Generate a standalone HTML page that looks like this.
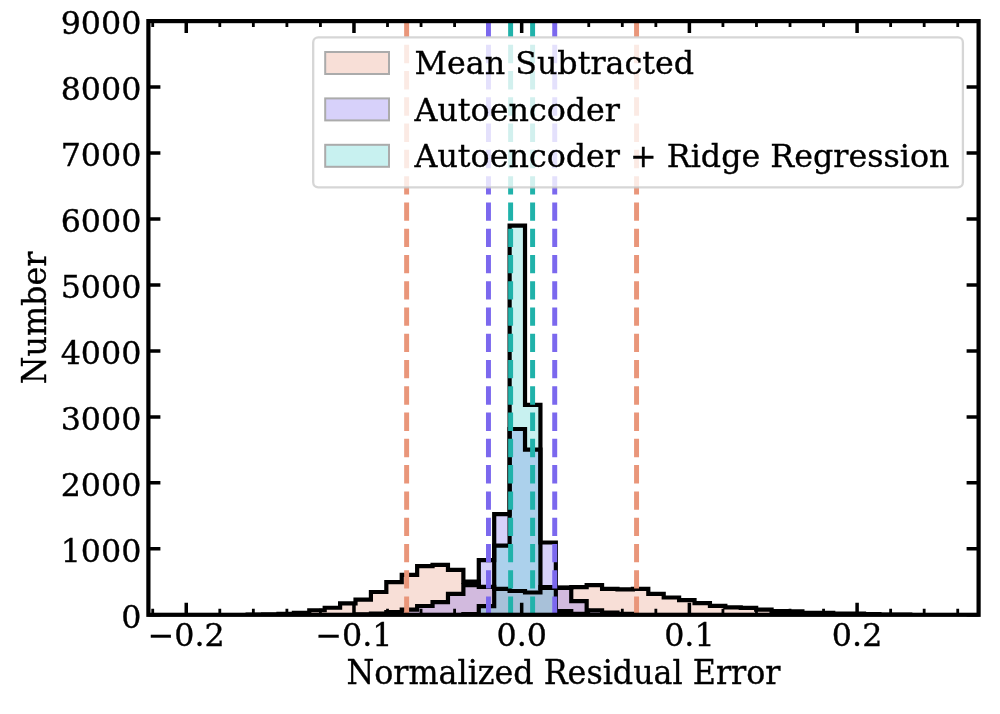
<!DOCTYPE html>
<html lang="en">
<head>
<meta charset="utf-8">
<title>Normalized Residual Error histogram</title>
<style>
html,body{margin:0;padding:0;background:#fff;}
body{width:1000px;height:714px;overflow:hidden;}
svg{display:block;}
</style>
</head>
<body>
<svg width="1000" height="714" viewBox="0 0 1000 714">
<defs><clipPath id="ax"><rect x="148.40" y="21.10" width="830.20" height="593.70"/></clipPath></defs>
<rect x="0" y="0" width="1000" height="714" fill="#fff"/>
<g clip-path="url(#ax)">
<path d="M247.64 614.80 L247.64 614.50 L263.05 614.50 L263.05 614.30 L278.46 614.30 L278.46 613.90 L293.87 613.90 L293.87 612.90 L309.28 612.90 L309.28 610.25 L324.69 610.25 L324.69 607.75 L340.10 607.75 L340.10 603.30 L355.51 603.30 L355.51 599.70 L370.92 599.70 L370.92 592.00 L386.33 592.00 L386.33 582.10 L401.74 582.10 L401.74 574.90 L417.15 574.90 L417.15 566.10 L432.56 566.10 L432.56 564.80 L447.97 564.80 L447.97 569.90 L463.38 569.90 L463.38 581.60 L478.79 581.60 L478.79 586.80 L494.20 586.80 L494.20 588.90 L509.61 588.90 L509.61 591.00 L525.02 591.00 L525.02 592.50 L540.43 592.50 L540.43 587.00 L555.84 587.00 L555.84 587.70 L571.25 587.70 L571.25 587.20 L586.66 587.20 L586.66 585.20 L602.07 585.20 L602.07 588.80 L617.48 588.80 L617.48 589.40 L632.89 589.40 L632.89 588.80 L648.30 588.80 L648.30 593.80 L663.71 593.80 L663.71 597.50 L679.12 597.50 L679.12 600.20 L694.53 600.20 L694.53 603.10 L709.94 603.10 L709.94 605.80 L725.35 605.80 L725.35 607.40 L740.76 607.40 L740.76 607.90 L756.17 607.90 L756.17 609.60 L771.58 609.60 L771.58 611.10 L786.99 611.10 L786.99 611.40 L802.40 611.40 L802.40 612.90 L817.81 612.90 L833.22 612.90 L833.22 613.60 L848.63 613.60 L864.04 613.60 L864.04 614.10 L879.45 614.10 L879.45 614.50 L894.86 614.50 L894.86 614.60 L910.27 614.60 L910.27 614.80 Z" fill="rgb(233,150,122)" fill-opacity="0.30" stroke="none"/>
<path d="M355.51 614.80 L355.51 614.30 L370.92 614.30 L370.92 613.70 L386.33 613.70 L386.33 612.00 L401.74 612.00 L401.74 609.60 L417.15 609.60 L417.15 606.00 L432.56 606.00 L432.56 602.10 L447.97 602.10 L447.97 593.80 L463.38 593.80 L463.38 585.20 L478.79 585.20 L478.79 560.10 L494.20 560.10 L494.20 514.10 L509.61 514.10 L509.61 429.00 L525.02 429.00 L525.02 449.70 L540.43 449.70 L540.43 542.50 L555.84 542.50 L555.84 587.80 L571.25 587.80 L571.25 601.10 L586.66 601.10 L586.66 610.40 L602.07 610.40 L602.07 612.50 L617.48 612.50 L617.48 613.80 L632.89 613.80 L632.89 614.80 Z" fill="rgb(123,104,238)" fill-opacity="0.30" stroke="none"/>
<path d="M463.38 614.80 L463.38 614.00 L478.79 614.00 L478.79 606.05 L494.20 606.05 L494.20 545.65 L509.61 545.65 L509.61 225.65 L525.02 225.65 L525.02 404.95 L540.43 404.95 L540.43 587.90 L555.84 587.90 L555.84 611.00 L571.25 611.00 L571.25 613.80 L586.66 613.80 L586.66 614.80 Z" fill="rgb(72,209,204)" fill-opacity="0.30" stroke="none"/>
<path d="M247.64 614.80 L247.64 614.50 L263.05 614.50 L263.05 614.30 L278.46 614.30 L278.46 613.90 L293.87 613.90 L293.87 612.90 L309.28 612.90 L309.28 610.25 L324.69 610.25 L324.69 607.75 L340.10 607.75 L340.10 603.30 L355.51 603.30 L355.51 599.70 L370.92 599.70 L370.92 592.00 L386.33 592.00 L386.33 582.10 L401.74 582.10 L401.74 574.90 L417.15 574.90 L417.15 566.10 L432.56 566.10 L432.56 564.80 L447.97 564.80 L447.97 569.90 L463.38 569.90 L463.38 581.60 L478.79 581.60 L478.79 586.80 L494.20 586.80 L494.20 588.90 L509.61 588.90 L509.61 591.00 L525.02 591.00 L525.02 592.50 L540.43 592.50 L540.43 587.00 L555.84 587.00 L555.84 587.70 L571.25 587.70 L571.25 587.20 L586.66 587.20 L586.66 585.20 L602.07 585.20 L602.07 588.80 L617.48 588.80 L617.48 589.40 L632.89 589.40 L632.89 588.80 L648.30 588.80 L648.30 593.80 L663.71 593.80 L663.71 597.50 L679.12 597.50 L679.12 600.20 L694.53 600.20 L694.53 603.10 L709.94 603.10 L709.94 605.80 L725.35 605.80 L725.35 607.40 L740.76 607.40 L740.76 607.90 L756.17 607.90 L756.17 609.60 L771.58 609.60 L771.58 611.10 L786.99 611.10 L786.99 611.40 L802.40 611.40 L802.40 612.90 L817.81 612.90 L833.22 612.90 L833.22 613.60 L848.63 613.60 L864.04 613.60 L864.04 614.10 L879.45 614.10 L879.45 614.50 L894.86 614.50 L894.86 614.60 L910.27 614.60 L910.27 614.80" fill="none" stroke="#000" stroke-width="4.20" stroke-linejoin="miter" stroke-linecap="butt"/>
<path d="M355.51 614.80 L355.51 614.30 L370.92 614.30 L370.92 613.70 L386.33 613.70 L386.33 612.00 L401.74 612.00 L401.74 609.60 L417.15 609.60 L417.15 606.00 L432.56 606.00 L432.56 602.10 L447.97 602.10 L447.97 593.80 L463.38 593.80 L463.38 585.20 L478.79 585.20 L478.79 560.10 L494.20 560.10 L494.20 514.10 L509.61 514.10 L509.61 429.00 L525.02 429.00 L525.02 449.70 L540.43 449.70 L540.43 542.50 L555.84 542.50 L555.84 587.80 L571.25 587.80 L571.25 601.10 L586.66 601.10 L586.66 610.40 L602.07 610.40 L602.07 612.50 L617.48 612.50 L617.48 613.80 L632.89 613.80 L632.89 614.80" fill="none" stroke="#000" stroke-width="4.20" stroke-linejoin="miter" stroke-linecap="butt"/>
<path d="M463.38 614.80 L463.38 614.00 L478.79 614.00 L478.79 606.05 L494.20 606.05 L494.20 545.65 L509.61 545.65 L509.61 225.65 L525.02 225.65 L525.02 404.95 L540.43 404.95 L540.43 587.90 L555.84 587.90 L555.84 611.00 L571.25 611.00 L571.25 613.80 L586.66 613.80 L586.66 614.80" fill="none" stroke="#000" stroke-width="4.20" stroke-linejoin="miter" stroke-linecap="butt"/>
</g>
<g stroke="#000" fill="none"><path d="M186.26 614.80 V602.80 M186.26 21.10 V33.10" stroke-width="3.50"/><path d="M353.97 614.80 V602.80 M353.97 21.10 V33.10" stroke-width="3.50"/><path d="M521.68 614.80 V602.80 M521.68 21.10 V33.10" stroke-width="3.50"/><path d="M689.39 614.80 V602.80 M689.39 21.10 V33.10" stroke-width="3.50"/><path d="M857.10 614.80 V602.80 M857.10 21.10 V33.10" stroke-width="3.50"/><path d="M152.72 614.80 V608.80 M152.72 21.10 V27.10" stroke-width="2.80"/><path d="M219.80 614.80 V608.80 M219.80 21.10 V27.10" stroke-width="2.80"/><path d="M253.34 614.80 V608.80 M253.34 21.10 V27.10" stroke-width="2.80"/><path d="M286.89 614.80 V608.80 M286.89 21.10 V27.10" stroke-width="2.80"/><path d="M320.43 614.80 V608.80 M320.43 21.10 V27.10" stroke-width="2.80"/><path d="M387.51 614.80 V608.80 M387.51 21.10 V27.10" stroke-width="2.80"/><path d="M421.05 614.80 V608.80 M421.05 21.10 V27.10" stroke-width="2.80"/><path d="M454.60 614.80 V608.80 M454.60 21.10 V27.10" stroke-width="2.80"/><path d="M488.14 614.80 V608.80 M488.14 21.10 V27.10" stroke-width="2.80"/><path d="M555.22 614.80 V608.80 M555.22 21.10 V27.10" stroke-width="2.80"/><path d="M588.76 614.80 V608.80 M588.76 21.10 V27.10" stroke-width="2.80"/><path d="M622.31 614.80 V608.80 M622.31 21.10 V27.10" stroke-width="2.80"/><path d="M655.85 614.80 V608.80 M655.85 21.10 V27.10" stroke-width="2.80"/><path d="M722.93 614.80 V608.80 M722.93 21.10 V27.10" stroke-width="2.80"/><path d="M756.47 614.80 V608.80 M756.47 21.10 V27.10" stroke-width="2.80"/><path d="M790.02 614.80 V608.80 M790.02 21.10 V27.10" stroke-width="2.80"/><path d="M823.56 614.80 V608.80 M823.56 21.10 V27.10" stroke-width="2.80"/><path d="M890.64 614.80 V608.80 M890.64 21.10 V27.10" stroke-width="2.80"/><path d="M924.18 614.80 V608.80 M924.18 21.10 V27.10" stroke-width="2.80"/><path d="M957.73 614.80 V608.80 M957.73 21.10 V27.10" stroke-width="2.80"/><path d="M148.40 614.80 H160.40 M978.60 614.80 H966.60" stroke-width="3.50"/><path d="M148.40 548.83 H160.40 M978.60 548.83 H966.60" stroke-width="3.50"/><path d="M148.40 482.87 H160.40 M978.60 482.87 H966.60" stroke-width="3.50"/><path d="M148.40 416.90 H160.40 M978.60 416.90 H966.60" stroke-width="3.50"/><path d="M148.40 350.93 H160.40 M978.60 350.93 H966.60" stroke-width="3.50"/><path d="M148.40 284.97 H160.40 M978.60 284.97 H966.60" stroke-width="3.50"/><path d="M148.40 219.00 H160.40 M978.60 219.00 H966.60" stroke-width="3.50"/><path d="M148.40 153.03 H160.40 M978.60 153.03 H966.60" stroke-width="3.50"/><path d="M148.40 87.07 H160.40 M978.60 87.07 H966.60" stroke-width="3.50"/><path d="M148.40 21.10 H160.40 M978.60 21.10 H966.60" stroke-width="3.50"/></g>
<g clip-path="url(#ax)">
<path d="M406.63 614.80 L406.63 21.10" stroke="rgb(233,150,122)" stroke-width="4.96" stroke-dasharray="18.34 7.93" fill="none"/>
<path d="M636.56 614.80 L636.56 21.10" stroke="rgb(233,150,122)" stroke-width="4.96" stroke-dasharray="18.34 7.93" fill="none"/>
<path d="M488.46 614.80 L488.46 21.10" stroke="rgb(123,104,238)" stroke-width="4.96" stroke-dasharray="18.34 7.93" fill="none"/>
<path d="M554.72 614.80 L554.72 21.10" stroke="rgb(123,104,238)" stroke-width="4.96" stroke-dasharray="18.34 7.93" fill="none"/>
<path d="M510.61 614.80 L510.61 21.10" stroke="rgb(32,178,170)" stroke-width="4.96" stroke-dasharray="18.34 7.93" fill="none"/>
<path d="M532.60 614.80 L532.60 21.10" stroke="rgb(32,178,170)" stroke-width="4.96" stroke-dasharray="18.34 7.93" fill="none"/>
</g>
<rect x="148.40" y="21.10" width="830.20" height="593.70" fill="none" stroke="#000" stroke-width="4.20" stroke-linejoin="miter"/>
<text transform="translate(141.40 627.50) scale(1 1.020)" text-anchor="end" font-family='"DejaVu Serif", "Liberation Serif", serif' font-size="31.75" fill="#000" stroke="#000" stroke-width="0.35">0</text>
<text transform="translate(141.40 561.53) scale(1 1.020)" text-anchor="end" font-family='"DejaVu Serif", "Liberation Serif", serif' font-size="31.75" fill="#000" stroke="#000" stroke-width="0.35">1000</text>
<text transform="translate(141.40 495.57) scale(1 1.020)" text-anchor="end" font-family='"DejaVu Serif", "Liberation Serif", serif' font-size="31.75" fill="#000" stroke="#000" stroke-width="0.35">2000</text>
<text transform="translate(141.40 429.60) scale(1 1.020)" text-anchor="end" font-family='"DejaVu Serif", "Liberation Serif", serif' font-size="31.75" fill="#000" stroke="#000" stroke-width="0.35">3000</text>
<text transform="translate(141.40 363.63) scale(1 1.020)" text-anchor="end" font-family='"DejaVu Serif", "Liberation Serif", serif' font-size="31.75" fill="#000" stroke="#000" stroke-width="0.35">4000</text>
<text transform="translate(141.40 297.67) scale(1 1.020)" text-anchor="end" font-family='"DejaVu Serif", "Liberation Serif", serif' font-size="31.75" fill="#000" stroke="#000" stroke-width="0.35">5000</text>
<text transform="translate(141.40 231.70) scale(1 1.020)" text-anchor="end" font-family='"DejaVu Serif", "Liberation Serif", serif' font-size="31.75" fill="#000" stroke="#000" stroke-width="0.35">6000</text>
<text transform="translate(141.40 165.73) scale(1 1.020)" text-anchor="end" font-family='"DejaVu Serif", "Liberation Serif", serif' font-size="31.75" fill="#000" stroke="#000" stroke-width="0.35">7000</text>
<text transform="translate(141.40 99.77) scale(1 1.020)" text-anchor="end" font-family='"DejaVu Serif", "Liberation Serif", serif' font-size="31.75" fill="#000" stroke="#000" stroke-width="0.35">8000</text>
<text transform="translate(141.40 33.80) scale(1 1.020)" text-anchor="end" font-family='"DejaVu Serif", "Liberation Serif", serif' font-size="31.75" fill="#000" stroke="#000" stroke-width="0.35">9000</text>
<text transform="translate(186.26 646.30)" text-anchor="middle" font-family='"DejaVu Serif", "Liberation Serif", serif' font-size="31.75" fill="#000" stroke="#000" stroke-width="0.35">−0.2</text>
<text transform="translate(353.97 646.30)" text-anchor="middle" font-family='"DejaVu Serif", "Liberation Serif", serif' font-size="31.75" fill="#000" stroke="#000" stroke-width="0.35">−0.1</text>
<text transform="translate(521.68 646.30)" text-anchor="middle" font-family='"DejaVu Serif", "Liberation Serif", serif' font-size="31.75" fill="#000" stroke="#000" stroke-width="0.35">0.0</text>
<text transform="translate(689.39 646.30)" text-anchor="middle" font-family='"DejaVu Serif", "Liberation Serif", serif' font-size="31.75" fill="#000" stroke="#000" stroke-width="0.35">0.1</text>
<text transform="translate(857.10 646.30)" text-anchor="middle" font-family='"DejaVu Serif", "Liberation Serif", serif' font-size="31.75" fill="#000" stroke="#000" stroke-width="0.35">0.2</text>
<text transform="translate(563.50 684.35) scale(1 1.035)" text-anchor="middle" font-family='"DejaVu Serif", "Liberation Serif", serif' font-size="31.75" fill="#000" stroke="#000" stroke-width="0.35">Normalized Residual Error</text>
<text transform="translate(46.40 317.95) rotate(-90) scale(1 1.045)" text-anchor="middle" font-family='"DejaVu Serif", "Liberation Serif", serif' font-size="31.75" fill="#000" stroke="#000" stroke-width="0.35">Number</text>
<rect x="313.20" y="37.40" width="649.70" height="149.90" rx="5" ry="5" fill="#fff" fill-opacity="0.8" stroke="#ccc" stroke-opacity="0.8" stroke-width="2.3"/>
<rect x="325.20" y="52.00" width="63.80" height="22.00" fill="rgb(233,150,122)" fill-opacity="0.30" stroke="none"/>
<rect x="325.20" y="52.00" width="63.80" height="22.00" fill="none" stroke="#ababab" stroke-width="2"/>
<text transform="translate(414.50 74.00) scale(1 1.020)" text-anchor="start" font-family='"DejaVu Serif", "Liberation Serif", serif' font-size="31.75" fill="#000" stroke="#000" stroke-width="0.35">Mean Subtracted</text>
<rect x="325.20" y="98.40" width="63.80" height="22.00" fill="rgb(123,104,238)" fill-opacity="0.30" stroke="none"/>
<rect x="325.20" y="98.40" width="63.80" height="22.00" fill="none" stroke="#ababab" stroke-width="2"/>
<text transform="translate(414.50 120.55) scale(1 1.020)" text-anchor="start" font-family='"DejaVu Serif", "Liberation Serif", serif' font-size="31.75" fill="#000" stroke="#000" stroke-width="0.35">Autoencoder</text>
<rect x="325.20" y="144.80" width="63.80" height="22.00" fill="rgb(72,209,204)" fill-opacity="0.30" stroke="none"/>
<rect x="325.20" y="144.80" width="63.80" height="22.00" fill="none" stroke="#ababab" stroke-width="2"/>
<text transform="translate(414.50 167.10) scale(1 1.020)" text-anchor="start" font-family='"DejaVu Serif", "Liberation Serif", serif' font-size="31.75" fill="#000" stroke="#000" stroke-width="0.35">Autoencoder + Ridge Regression</text>
</svg>
</body>
</html>
